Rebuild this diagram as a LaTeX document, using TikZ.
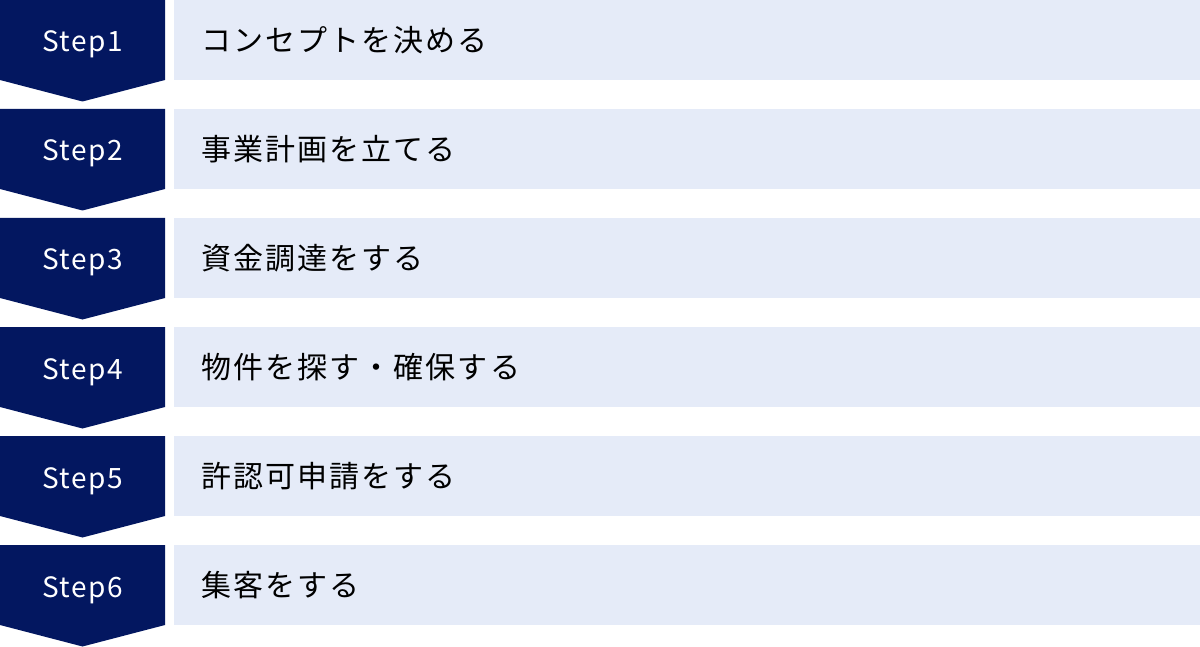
\documentclass[tikz,border=0pt]{standalone}
\usepackage{fontspec}
\setmainfont{Noto Sans}
\newfontfamily\jpfont[LetterSpace=7]{Noto Sans CJK JP}
\newfontfamily\stepfont[LetterSpace=5]{Noto Sans CJK JP}
\definecolor{navy}{RGB}{3,23,96}
\definecolor{lightbox}{RGB}{229,235,248}
\tikzset{
  stepshape/.style={fill=navy, draw=none},
  steplabel/.style={text=white, font=\stepfont\fontsize{28}{30}\selectfont, anchor=base, inner sep=0pt},
  taskbox/.style={fill=lightbox, draw=none, minimum width=1026pt, minimum height=80pt, anchor=north west, inner sep=0pt},
  tasklabel/.style={text=black, font=\jpfont\fontsize{30}{34}\selectfont, anchor=west, inner sep=0pt}
}
\begin{document}
\begin{tikzpicture}[x=1pt,y=-1pt]
\useasboundingbox (0,0) rectangle (1200,647);
\foreach \i/\t in {1/コンセプトを決める,2/事業計画を立てる,3/資金調達をする,4/物件を探す・確保する,5/許認可申請をする,6/集客をする}{
  \pgfmathsetmacro{\y}{(\i-1)*109}
  \fill[stepshape] (0,\y) -- (165,\y) -- (165,\y+80) -- (82.5,\y+101.5) -- (0,\y+80) -- cycle;
  \node[taskbox] (box\i) at (174,\y) {};
  \node[steplabel] (step\i) at (82.5,\y+52) {Step\i};
  \node[tasklabel] (task\i) at (201,\y+40) {\t};
}
\end{tikzpicture}
\end{document}
